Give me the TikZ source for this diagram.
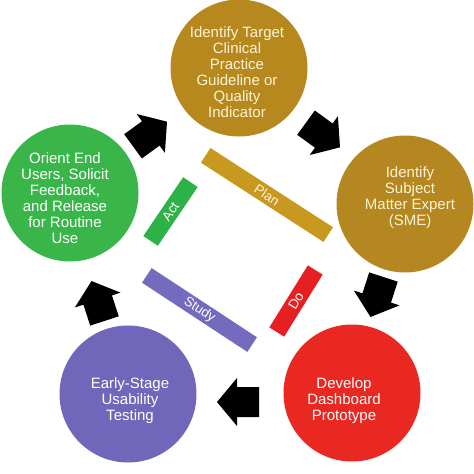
\documentclass[tikz,border=0pt]{standalone}
\usepackage{fontspec}
\setmainfont{Liberation Sans}
\definecolor{goldA}{RGB}{183,136,30}
\definecolor{goldB}{RGB}{181,135,33}
\definecolor{goldbar}{RGB}{201,152,30}
\definecolor{greenA}{RGB}{57,181,74}
\definecolor{greenbar}{RGB}{45,178,72}
\definecolor{redA}{RGB}{234,40,34}
\definecolor{redbar}{RGB}{230,32,34}
\definecolor{purpA}{RGB}{112,102,186}
\definecolor{purpbar}{RGB}{116,106,190}
\definecolor{cream}{RGB}{252,244,214}
\begin{document}
\begin{tikzpicture}[x=1pt,y=-1pt,
  circ/.style={circle, minimum size=137pt, inner sep=0pt, fill=#1},
  ctext/.style={text=#1, font=\fontsize{15}{16}\selectfont, align=center, inner sep=0pt},
  bar/.style={fill=#1, minimum height=17.5pt, inner sep=0pt, font=\fontsize{13.5}{14}\selectfont},
  blockarrow/.pic={\fill[black] (-21,-15) -- (1,-15) -- (1,-24) -- (21,0) -- (1,24) -- (1,15) -- (-21,15) -- cycle;}
]
\useasboundingbox (0,0) rectangle (474,474);
% circles
\node[circ=goldA] (target) at (239,68) {};
\node[circ=goldB] (sme) at (405,204) {};
\node[circ=redA] (dev) at (352,393) {};
\node[circ=purpA] (test) at (128,394) {};
\node[circ=greenA] (orient) at (70,193) {};
% circle texts
\node[ctext=cream] (ttarget) at (237,72) {Identify Target\\Clinical\\Practice\\Guideline or\\Quality\\Indicator};
\node[ctext=cream] (tsme) at (410,198) {Identify\\Subject\\Matter Expert\\(SME)};
\node[ctext=white] (tdev) at (344,401) {Develop\\Dashboard\\Prototype};
\node[ctext=white] (ttest) at (130,401) {Early-Stage\\Usability\\Testing};
\node[ctext=white] (torient) at (65,198) {Orient End\\Users, Solicit\\Feedback,\\and Release\\for Routine\\Use};
% PDSA bars
\node[bar=goldbar, text=cream, minimum width=146pt, rotate=-32.9] (plan) at (267,195) {Plan};
\node[bar=redbar, text=white, minimum width=73pt, rotate=58.2] (do) at (296,301) {Do};
\node[bar=purpbar, text=white, minimum width=126pt, rotate=-33.3] (study) at (199.5,310) {Study};
\node[bar=greenbar, text=white, minimum width=71pt, rotate=55.9] (act) at (170.5,211.5) {Act};
% block arrows
\pic[rotate=36] (a1) at (150,134) {blockarrow};
\pic[rotate=-36] (a2) at (323,135) {blockarrow};
\pic[rotate=-108] (a3) at (377,297) {blockarrow};
\pic[rotate=180] (a4) at (238,402) {blockarrow};
\pic[rotate=108] (a5) at (98,301) {blockarrow};
\end{tikzpicture}
\end{document}
